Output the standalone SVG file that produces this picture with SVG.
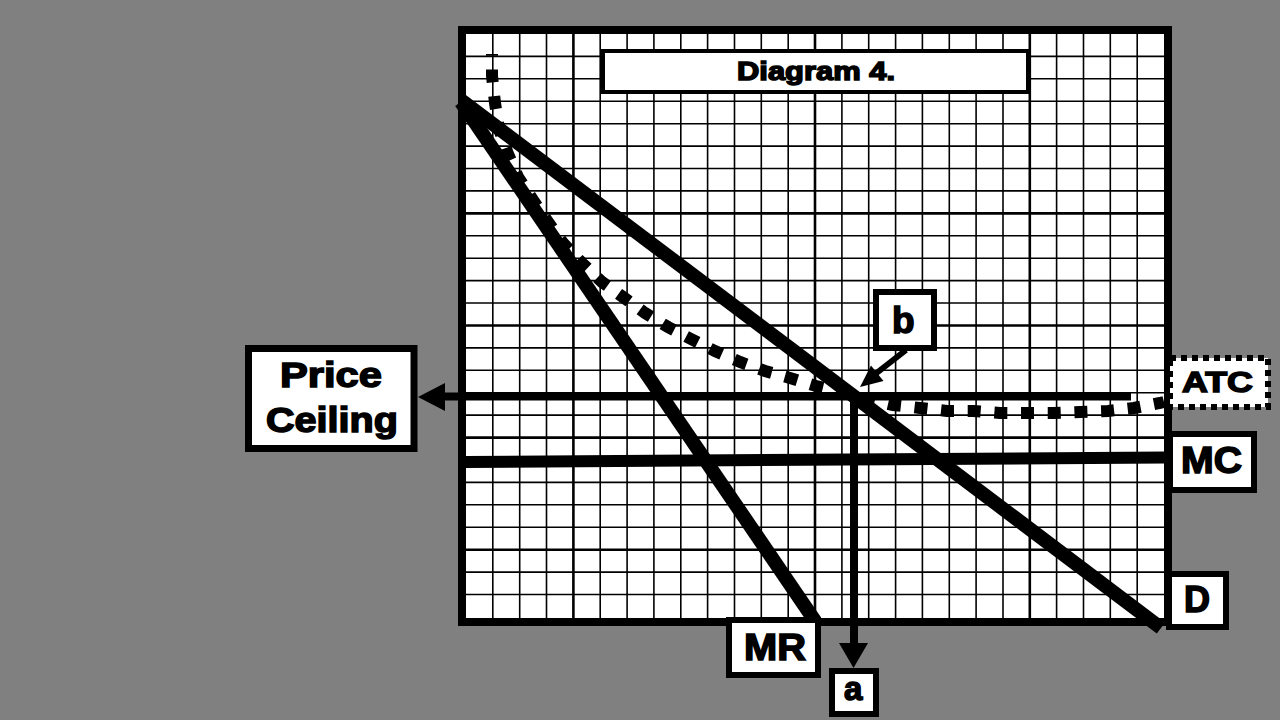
<svg xmlns="http://www.w3.org/2000/svg" width="1280" height="720" viewBox="0 0 1280 720">
<style>
.bg{fill:#808080}
.thin{stroke:#000;stroke-width:1.6}
.thick{stroke:#000;stroke-width:2.6}
.box{fill:#fff;stroke:#000;stroke-width:6}
.lbl{font-family:"Liberation Sans",Arial,sans-serif;font-weight:bold;fill:#000;stroke:#000;stroke-width:1.5}
.curve{fill:none;stroke:#000;stroke-width:14;stroke-linecap:butt}
.arrow{fill:none;stroke:#000;stroke-width:8}
</style>
<rect class="bg" x="0" y="0" width="1280" height="720"/>
<g id="grid">
<rect x="462" y="30" width="706" height="592" fill="#fff"/>
<g class="thin">
<line x1="492.8" y1="34" x2="492.8" y2="618"/>
<line x1="519.7" y1="34" x2="519.7" y2="618"/>
<line x1="546.5" y1="34" x2="546.5" y2="618"/>
<line x1="600.2" y1="34" x2="600.2" y2="618"/>
<line x1="627.1" y1="34" x2="627.1" y2="618"/>
<line x1="653.9" y1="34" x2="653.9" y2="618"/>
<line x1="680.8" y1="34" x2="680.8" y2="618"/>
<line x1="707.6" y1="34" x2="707.6" y2="618"/>
<line x1="734.5" y1="34" x2="734.5" y2="618"/>
<line x1="761.3" y1="34" x2="761.3" y2="618"/>
<line x1="788.2" y1="34" x2="788.2" y2="618"/>
<line x1="841.9" y1="34" x2="841.9" y2="618"/>
<line x1="868.7" y1="34" x2="868.7" y2="618"/>
<line x1="895.6" y1="34" x2="895.6" y2="618"/>
<line x1="922.4" y1="34" x2="922.4" y2="618"/>
<line x1="949.3" y1="34" x2="949.3" y2="618"/>
<line x1="976.1" y1="34" x2="976.1" y2="618"/>
<line x1="1003" y1="34" x2="1003" y2="618"/>
<line x1="1056.6" y1="34" x2="1056.6" y2="618"/>
<line x1="1083.5" y1="34" x2="1083.5" y2="618"/>
<line x1="1110.3" y1="34" x2="1110.3" y2="618"/>
<line x1="1137.2" y1="34" x2="1137.2" y2="618"/>
<line x1="466" y1="56.4" x2="1164" y2="56.4"/>
<line x1="466" y1="78.8" x2="1164" y2="78.8"/>
<line x1="466" y1="101.3" x2="1164" y2="101.3"/>
<line x1="466" y1="123.7" x2="1164" y2="123.7"/>
<line x1="466" y1="146.1" x2="1164" y2="146.1"/>
<line x1="466" y1="168.5" x2="1164" y2="168.5"/>
<line x1="466" y1="190.9" x2="1164" y2="190.9"/>
<line x1="466" y1="235.8" x2="1164" y2="235.8"/>
<line x1="466" y1="258.2" x2="1164" y2="258.2"/>
<line x1="466" y1="280.6" x2="1164" y2="280.6"/>
<line x1="466" y1="303.0" x2="1164" y2="303.0"/>
<line x1="466" y1="347.9" x2="1164" y2="347.9"/>
<line x1="466" y1="370.3" x2="1164" y2="370.3"/>
<line x1="466" y1="392.7" x2="1164" y2="392.7"/>
<line x1="466" y1="415.1" x2="1164" y2="415.1"/>
<line x1="466" y1="460.0" x2="1164" y2="460.0"/>
<line x1="466" y1="482.4" x2="1164" y2="482.4"/>
<line x1="466" y1="504.8" x2="1164" y2="504.8"/>
<line x1="466" y1="527.2" x2="1164" y2="527.2"/>
<line x1="466" y1="572.1" x2="1164" y2="572.1"/>
<line x1="466" y1="594.5" x2="1164" y2="594.5"/>
</g>
<g class="thick">
<line x1="573.4" y1="34" x2="573.4" y2="618"/>
<line x1="815" y1="34" x2="815" y2="618"/>
<line x1="1029.8" y1="34" x2="1029.8" y2="618"/>
<line x1="466" y1="213.4" x2="1164" y2="213.4"/>
<line x1="466" y1="325.5" x2="1164" y2="325.5"/>
<line x1="466" y1="437.6" x2="1164" y2="437.6"/>
<line x1="466" y1="549.7" x2="1164" y2="549.7"/>
</g>
</g>
<g id="title">
<rect x="603" y="51" width="425" height="41" fill="#fff" stroke="#000" stroke-width="4"/>
<text class="lbl" x="737" y="80" font-size="26" textLength="158" lengthAdjust="spacingAndGlyphs">Diagram 4.</text>
</g>
<g id="connectors">
<path id="ATC-curve" fill="none" stroke="#000" stroke-width="12" stroke-dasharray="13 13.7" stroke-dashoffset="11.2" d="M492,54 L492,76 L495,103 L499,129 L508,154 L518,177 L533,200 L548,222 L563,243 L582,263 L602,282 L623,297 L645,313 L668,327 L691,339 L715,351 L740,362 L765,371 L790,378 L816,386 L841,392 L867,399 L893,405 L920,408 L947,411 L973,411 L1000,413 L1027,413 L1053,413 L1080,412 L1108,411 L1134,408 L1160,403 L1164,402"/>
<rect x="462" y="30" width="706" height="592" fill="none" stroke="#000" stroke-width="8"/>
<line id="MC-line" x1="466" y1="462" x2="1166" y2="457.5" stroke="#000" stroke-width="12"/>
<line id="PC-line" x1="440" y1="396.5" x2="1131" y2="396.5" stroke="#000" stroke-width="8"/>
<polygon points="418,397 445,383 445,411" fill="#000"/>
<line id="MR-line" class="curve" x1="461" y1="102" x2="815" y2="621"/>
<line id="D-line" class="curve" x1="461" y1="100" x2="1161" y2="628"/>
<line class="arrow" x1="854" y1="396" x2="854" y2="646"/>
<polygon points="839,643 868,643 853.5,668" fill="#000"/>
<line x1="906" y1="350" x2="874" y2="375" stroke="#000" stroke-width="6"/>
<polygon points="860,387 871,365.5 883.5,381" fill="#000"/>
</g>
<g id="price-ceiling">
<rect x="248.5" y="348.5" width="165.5" height="100" fill="#fff" stroke="#000" stroke-width="7"/>
<text class="lbl" x="280" y="387" font-size="35" textLength="102" lengthAdjust="spacingAndGlyphs">Price</text>
<text class="lbl" x="266" y="432" font-size="35" textLength="132" lengthAdjust="spacingAndGlyphs">Ceiling</text>
</g>
<g id="b">
<rect class="box" x="876" y="292" width="58" height="56"/>
<text class="lbl" x="892" y="333" font-size="37">b</text>
</g>
<g id="ATC">
<rect x="1170" y="358" width="98" height="49" fill="#fff" stroke="#000" stroke-width="6" stroke-dasharray="6 5"/>
<text class="lbl" x="1182" y="392" font-size="29" textLength="71" lengthAdjust="spacingAndGlyphs">ATC</text>
</g>
<g id="MC">
<rect class="box" x="1170" y="434" width="84" height="56"/>
<text class="lbl" x="1181" y="473" font-size="36" textLength="61" lengthAdjust="spacingAndGlyphs">MC</text>
</g>
<g id="D">
<rect class="box" x="1169" y="574" width="57" height="53"/>
<text class="lbl" x="1184" y="612" font-size="36">D</text>
</g>
<g id="MR">
<rect class="box" x="729" y="620" width="89" height="55"/>
<text class="lbl" x="744" y="660" font-size="36" textLength="62" lengthAdjust="spacingAndGlyphs">MR</text>
</g>
<g id="a">
<rect class="box" x="832" y="671" width="44" height="43"/>
<text class="lbl" x="844" y="700" font-size="33">a</text>
</g>
</svg>
